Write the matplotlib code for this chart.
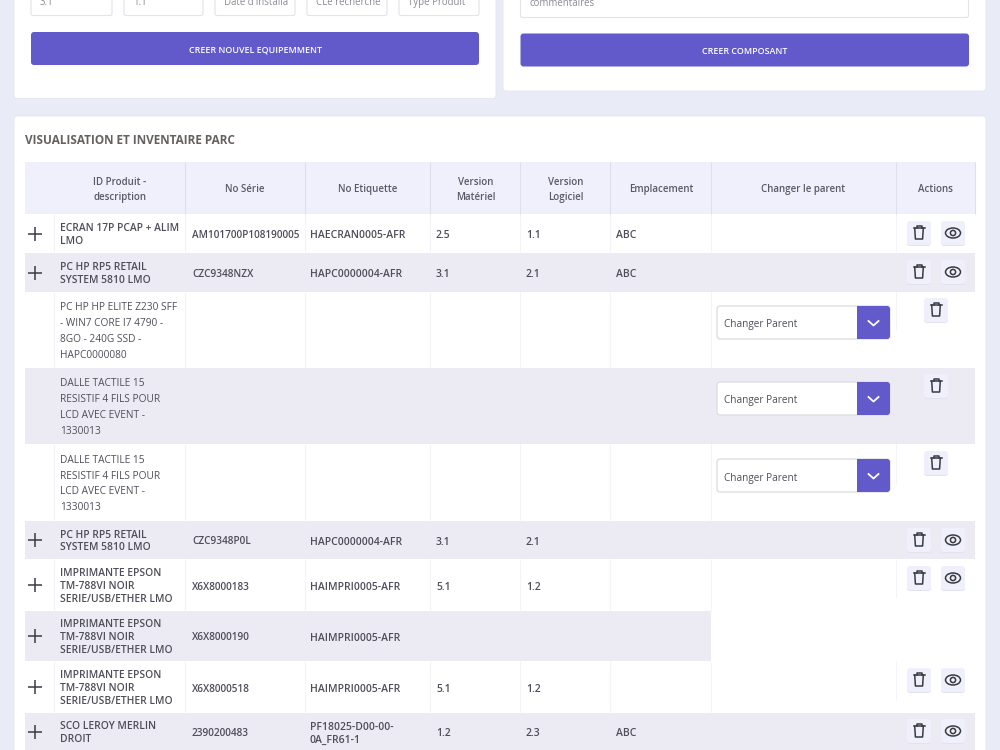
import matplotlib
matplotlib.use("Agg")
import matplotlib.pyplot as plt
from matplotlib.patches import FancyBboxPatch, Rectangle, Ellipse, Circle

plt.rcParams['font.family'] = ['Open Sans', 'Noto Sans', 'DejaVu Sans']

# ---- content ----
input_hints = ["3.1", "1.1", "Date d'installa", "CLé recherche", "Type Produit"]
comment_hint = "commentaires"
button_left = "CREER NOUVEL EQUIPEMMENT"
button_right = "CREER COMPOSANT"
title = "VISUALISATION ET INVENTAIRE PARC"
headers = ["ID Produit -\ndescription", "No Série", "No Etiquette", "Version\nMatériel",
           "Version\nLogiciel", "Emplacement", "Changer le parent", "Actions"]
products = ["ECRAN 17P PCAP + ALIM\nLMO",
            "PC HP RP5 RETAIL\nSYSTEM 5810 LMO",
            "PC HP HP ELITE Z230 SFF\n- WIN7 CORE I7 4790 -\n8GO - 240G SSD -\nHAPC0000080",
            "DALLE TACTILE 15\nRESISTIF 4 FILS POUR\nLCD AVEC EVENT -\n1330013",
            "DALLE TACTILE 15\nRESISTIF 4 FILS POUR\nLCD AVEC EVENT -\n1330013",
            "PC HP RP5 RETAIL\nSYSTEM 5810 LMO",
            "IMPRIMANTE EPSON\nTM-788VI NOIR\nSERIE/USB/ETHER LMO",
            "IMPRIMANTE EPSON\nTM-788VI NOIR\nSERIE/USB/ETHER LMO",
            "IMPRIMANTE EPSON\nTM-788VI NOIR\nSERIE/USB/ETHER LMO",
            "SCO LEROY MERLIN\nDROIT"]
serials = ["AM101700P108190005", "CZC9348NZX", "", "", "", "CZC9348P0L",
           "X6X8000183", "X6X8000190", "X6X8000518", "2390200483"]
tags = ["HAECRAN0005-AFR", "HAPC0000004-AFR", "", "", "", "HAPC0000004-AFR",
        "HAIMPRI0005-AFR", "HAIMPRI0005-AFR", "HAIMPRI0005-AFR", "PF18025-D00-00-\n0A_FR61-1"]
hw_versions = ["2.5", "3.1", "", "", "", "3.1", "5.1", "", "5.1", "1.2"]
sw_versions = ["1.1", "2.1", "", "", "", "2.1", "1.2", "", "1.2", "2.3"]
locations = ["ABC", "ABC", "", "", "", "", "", "", "", "ABC"]
select_label = "Changer Parent"

# ---- layout (pixels) ----
row_edges = [214, 253, 292, 368, 444, 521, 559, 611, 661, 713, 750]
col_edges = [25, 54, 185, 305, 430, 520, 610, 711, 896, 975]
input_boxes = [(31, 112), (124, 203), (215, 295), (307, 387), (399, 479)]
trash_tops = [221, 260, 298, 374, 451, 528, 566, None, 668, 719]

BG = "#E9EBF7"; CARD = "#FFFFFF"; HEAD = "#F0F0FC"; GREY = "#ECEBF4"
PURPLE = "#6259CA"; TXT = "#4E4E5A"; HDR = "#5A5A66"; TITLE = "#66605F"
LINE_H = "#DEDFEA"; LINE_B = "#F3F3F9"; ICON = "#3A3A42"; BORDER = "#E3E3EA"
PX = 0.72

fig = plt.figure(figsize=(10, 7.5), dpi=100, facecolor=BG)
ax = fig.add_axes([0, 0, 1, 1])
ax.set_xlim(0, 1000); ax.set_ylim(750, 0); ax.axis('off')


def box(x0, y0, x1, y1, fc, ec='none', r=2, lw=1, z=1):
    ax.add_patch(FancyBboxPatch((x0 + r, y0 + r), x1 - x0 - 2 * r, y1 - y0 - 2 * r,
                                boxstyle=f"round,pad={r},rounding_size={r}",
                                fc=fc, ec=ec, lw=lw, zorder=z, mutation_aspect=1))


def rect(x0, y0, x1, y1, fc, z=2):
    ax.add_patch(Rectangle((x0, y0), x1 - x0, y1 - y0, fc=fc, ec='none', zorder=z))


def vline(x, y0, y1, c, lw=0.8, z=3):
    ax.plot([x, x], [y0, y1], color=c, lw=lw, zorder=z, solid_capstyle='butt')


def label(x, yc, s, px=10.4, weight=600, color=TXT, ha='left', step=13.0, z=6):
    lines = s.split("\n")
    y = yc - step * (len(lines) - 1) / 2
    for ln in lines:
        ax.text(x, y + px * 0.37 + 0.8, ln, fontsize=px * PX, fontweight=weight, color=color,
                ha=ha, va='baseline', zorder=z)
        y += step


def button(x0, y0, z=5):
    box(x0, y0 + 1, x0 + 24, y0 + 25, "#E2E2EE", r=3, z=z - 0.5)
    box(x0, y0, x0 + 24, y0 + 24, HEAD, r=3, z=z)


def trash(x0, y0):
    button(x0, y0)
    cx, cy = x0 + 12, y0 + 12
    ax.plot([cx - 5.5, cx + 5.5], [cy - 5, cy - 5], color=ICON, lw=1.1, zorder=7)
    ax.plot([cx - 2.5, cx - 2.5, cx + 2.5, cx + 2.5], [cy - 5, cy - 7, cy - 7, cy - 5],
            color=ICON, lw=1.1, zorder=7)
    ax.plot([cx - 4.3, cx - 3.6, cx + 3.6, cx + 4.3], [cy - 5, cy + 6, cy + 6, cy - 5],
            color=ICON, lw=1.1, zorder=7)


def eye(x0, y0):
    button(x0, y0)
    cx, cy = x0 + 12, y0 + 12
    ax.add_patch(Ellipse((cx, cy), 15, 10, fc='none', ec=ICON, lw=1.1, zorder=7))
    ax.add_patch(Circle((cx, cy), 2.6, fc='none', ec=ICON, lw=1.1, zorder=7))


def select(yt):
    box(717, yt, 890, yt + 33, "#FFFFFF", ec="#DDDDE4", r=3, z=5)
    box(857, yt, 890, yt + 33, PURPLE, r=3, z=5.2)
    rect(857, yt, 862, yt + 33, PURPLE, z=5.3)
    label(724, yt + 17, select_label, px=10.0, weight=400, color=TXT)
    ax.plot([868.5, 873.5, 878.5], [yt + 15, yt + 19.5, yt + 15], color="#FFFFFF", lw=1.3, zorder=7)


# ---- cards ----
box(14, -10, 496, 98.5, CARD, ec="#E4E5F0", r=3, lw=0.6)
box(503, -10, 986, 91, CARD, ec="#E4E5F0", r=3, lw=0.6)
box(14, 116, 986, 770, CARD, ec="#E4E5F0", r=3, lw=0.6)

for (x0, x1), hint in zip(input_boxes, input_hints):
    box(x0, -10, x1, 15.5, "#FFFFFF", ec=BORDER, r=2, lw=0.8)
    label(x0 + 9, 0.5, hint, px=9.7, weight=400, color="#8A8A94")
box(520.5, -10, 968.5, 17.5, "#FFFFFF", ec=BORDER, r=2, lw=0.8)
label(529, 2, comment_hint, px=9.7, weight=400, color="#8A8A94")

box(31, 32, 479, 65, PURPLE, r=3)
label(255.5, 48, button_left, px=8.9, weight=600, color="#FFFFFF", ha='center')
box(520.5, 33.5, 969, 66.5, PURPLE, r=3)
label(744.5, 49.5, button_right, px=8.9, weight=600, color="#FFFFFF", ha='center')

label(25, 139, title, px=11.75, weight=700, color=TITLE)

# ---- table header ----
rect(25, 162, 975.5, 214, HEAD)
for x in col_edges[2:]:
    vline(x, 162, 214, LINE_H)
header_cx = [120, 245, 367.5, 475.5, 565.5, 661, 803.5, 935.5]
for cx, h in zip(header_cx, headers):
    label(cx, 188, h, px=9.8, weight=600, color=HDR, ha='center', step=15.2)

# ---- table body ----
n = len(products)
for i in range(n):
    y0, y1 = row_edges[i], row_edges[i + 1]
    if i % 2 == 1:
        x_end = 711 if i == 7 else 975
        rect(25, y0, x_end, y1, GREY)
    yc = (y0 + y1) / 2
    child = serials[i] == ""
    if i % 2 == 0:
        for x in col_edges[1:8]:
            vline(x, y0, y1, LINE_B)
    if not child:
        ax.plot([28, 42], [yc, yc], color=ICON, lw=1.1, zorder=6, solid_capstyle='butt')
        ax.plot([35, 35], [yc - 7, yc + 7], color=ICON, lw=1.1, zorder=6, solid_capstyle='butt')
    if child:
        label(60, yc - 0.5, products[i], px=10.1, weight=400, step=15.8)
    else:
        label(60, yc - 0.5, products[i], px=10.25, weight=600, step=12.8)
    label(192, yc, serials[i], px=10.0)
    label(310, yc, tags[i], px=10.4, step=13)
    label(436, yc, hw_versions[i])
    label(526, yc, sw_versions[i])
    label(616, yc, locations[i])
    t = trash_tops[i]
    if t is not None:
        if child:
            trash(924, t)
            select(t + 8)
            if i % 2 == 0:
                vline(896, y0, t + 32, LINE_B)
        else:
            trash(907, t)
            eye(941, t)
            if i % 2 == 0:
                vline(896, y0, t + 31, LINE_B)

fig.savefig("out.png", dpi=100, facecolor=BG)
